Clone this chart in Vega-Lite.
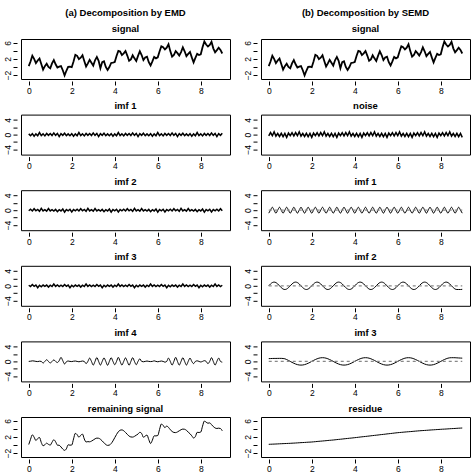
{
  "$schema": "https://vega.github.io/schema/vega-lite/v6.json",
  "padding": {"left": 2, "top": 7, "right": 2, "bottom": 0},
  "config": {
    "font": "Liberation Sans",
    "view": {"stroke": "#000", "strokeWidth": 1},
    "axis": {"title": null, "grid": false, "domain": false, "tickColor": "#000", "labelColor": "#000", "labelFontSize": 8.5, "tickSize": 4, "labelOverlap": false},
    "axisX": {"values": [0, 2, 4, 6, 8], "offset": 2, "labelPadding": 1, "labelFlush": false},
    "axisY": {"offset": 4, "labelAngle": 270, "labelPadding": 1, "labelAlign": "center", "labelBaseline": "bottom"},
    "title": {"fontSize": 9.5, "fontWeight": "bold", "color": "#000", "offset": 4, "frame": "group", "anchor": "middle", "lineHeight": 16},
    "line": {"color": "#000", "strokeWidth": 1}
  },
  "data": {"values": [
    {"x":0,"s":0.22,"e1":0.2,"e2":-0.15,"e3":0.15,"e4":0,"er":0.12,"n":-0.35,"i1":-0.8,"i2":0,"i3":0.75,"r":0.17},
    {"x":0.083,"s":1.36,"e1":-0.3,"e2":0.25,"e3":-0.2,"e4":0.05,"er":1.42,"n":0.55,"i1":0,"i2":0.5,"i3":0.77,"r":0.19},
    {"x":0.167,"s":2.82,"e1":0.25,"e2":-0.2,"e3":0.35,"e4":0.15,"er":2.55,"n":-0.3,"i1":0.8,"i2":0.87,"i3":0.79,"r":0.21},
    {"x":0.25,"s":2.03,"e1":-0.45,"e2":0.4,"e3":-0.15,"e4":0.1,"er":1.95,"n":0.75,"i1":0,"i2":1,"i3":0.8,"r":0.23},
    {"x":0.333,"s":0.97,"e1":0.2,"e2":-0.15,"e3":0.2,"e4":0,"er":1.12,"n":-0.4,"i1":-0.8,"i2":0.87,"i3":0.8,"r":0.25},
    {"x":0.417,"s":1.63,"e1":-0.3,"e2":0.2,"e3":-0.5,"e4":-0.05,"er":1.62,"n":0.3,"i1":0,"i2":0.5,"i3":0.81,"r":0.27},
    {"x":0.5,"s":2.12,"e1":0.55,"e2":-0.3,"e3":0.15,"e4":0.05,"er":1.88,"n":-0.5,"i1":0.8,"i2":0,"i3":0.82,"r":0.3},
    {"x":0.583,"s":0.74,"e1":-0.25,"e2":0.5,"e3":-0.25,"e4":0,"er":0.64,"n":0.35,"i1":0,"i2":-0.5,"i3":0.82,"r":0.32},
    {"x":0.667,"s":-0.65,"e1":0.2,"e2":-0.2,"e3":0.2,"e4":-0.45,"er":-0.19,"n":-0.55,"i1":-0.8,"i2":-0.87,"i3":0.78,"r":0.34},
    {"x":0.75,"s":0.22,"e1":-0.35,"e2":0.15,"e3":-0.15,"e4":0,"er":0.07,"n":0.3,"i1":0,"i2":-1,"i3":0.71,"r":0.36},
    {"x":0.833,"s":0.81,"e1":0.3,"e2":-0.25,"e3":0.2,"e4":0.45,"er":0.45,"n":-0.75,"i1":0.8,"i2":-0.87,"i3":0.5,"r":0.38},
    {"x":0.917,"s":0.01,"e1":-0.2,"e2":0.45,"e3":-0.35,"e4":0,"er":0.16,"n":0.4,"i1":0,"i2":-0.5,"i3":0.26,"r":0.4},
    {"x":1,"s":-0.33,"e1":0.3,"e2":-0.2,"e3":0.15,"e4":-0.45,"er":-0.02,"n":-0.3,"i1":-0.8,"i2":0,"i3":0,"r":0.42},
    {"x":1.083,"s":0.89,"e1":-0.25,"e2":0.15,"e3":-0.2,"e4":0,"er":0.69,"n":0.5,"i1":0,"i2":0.5,"i3":-0.26,"r":0.45},
    {"x":1.167,"s":1.74,"e1":0.45,"e2":-0.25,"e3":0.5,"e4":0.4,"er":1.32,"n":-0.35,"i1":0.8,"i2":0.87,"i3":-0.5,"r":0.47},
    {"x":1.25,"s":0.69,"e1":-0.2,"e2":0.2,"e3":-0.15,"e4":0,"er":0.79,"n":0.55,"i1":0,"i2":1,"i3":-0.71,"r":0.5},
    {"x":1.333,"s":-0.12,"e1":0.3,"e2":-0.4,"e3":0.25,"e4":-0.3,"er":-0.03,"n":-0.3,"i1":-0.8,"i2":0.87,"i3":-0.87,"r":0.53},
    {"x":1.417,"s":0.09,"e1":-0.55,"e2":0.15,"e3":-0.2,"e4":0.2,"er":-0.07,"n":0.75,"i1":0,"i2":0.5,"i3":-0.97,"r":0.56},
    {"x":1.5,"s":0.24,"e1":0.25,"e2":-0.2,"e3":0.15,"e4":1.1,"er":-0.49,"n":-0.4,"i1":0.8,"i2":0,"i3":-1,"r":0.59},
    {"x":1.583,"s":-0.81,"e1":-0.2,"e2":0.3,"e3":-0.2,"e4":0.2,"er":-1.02,"n":0.3,"i1":0,"i2":-0.5,"i3":-0.97,"r":0.61},
    {"x":1.667,"s":-2.1,"e1":0.35,"e2":-0.5,"e3":0.35,"e4":-0.7,"er":-1.34,"n":-0.5,"i1":-0.8,"i2":-0.87,"i3":-0.87,"r":0.64},
    {"x":1.75,"s":-0.94,"e1":-0.3,"e2":0.2,"e3":-0.15,"e4":-0.1,"er":-0.96,"n":0.35,"i1":0,"i2":-1,"i3":-0.71,"r":0.67},
    {"x":1.833,"s":0.03,"e1":0.2,"e2":-0.15,"e3":0.2,"e4":0.1,"er":0.05,"n":-0.55,"i1":0.8,"i2":-0.87,"i3":-0.5,"r":0.7},
    {"x":1.917,"s":0.11,"e1":-0.3,"e2":0.25,"e3":-0.5,"e4":0,"er":-0.04,"n":0.3,"i1":0,"i2":-0.5,"i3":-0.26,"r":0.72},
    {"x":2,"s":-0.05,"e1":0.25,"e2":-0.45,"e3":0.15,"e4":-0.05,"er":-0.01,"n":-0.75,"i1":-0.8,"i2":0,"i3":0,"r":0.75},
    {"x":2.083,"s":1.4,"e1":-0.45,"e2":0.2,"e3":-0.25,"e4":0.05,"er":1.51,"n":0.4,"i1":0,"i2":0.5,"i3":0.26,"r":0.79},
    {"x":2.167,"s":3.05,"e1":0.2,"e2":-0.15,"e3":0.2,"e4":0.1,"er":2.92,"n":-0.3,"i1":0.8,"i2":0.87,"i3":0.5,"r":0.83},
    {"x":2.25,"s":2.79,"e1":-0.3,"e2":0.25,"e3":-0.15,"e4":0,"er":2.59,"n":0.5,"i1":0,"i2":1,"i3":0.71,"r":0.88},
    {"x":2.333,"s":1.96,"e1":0.55,"e2":-0.2,"e3":0.2,"e4":-0.1,"er":1.94,"n":-0.35,"i1":-0.8,"i2":0.87,"i3":0.87,"r":0.92},
    {"x":2.417,"s":2.33,"e1":-0.25,"e2":0.4,"e3":-0.35,"e4":0,"er":2.43,"n":0.55,"i1":0,"i2":0.5,"i3":0.97,"r":0.96},
    {"x":2.5,"s":2.95,"e1":0.2,"e2":-0.15,"e3":0.15,"e4":0.1,"er":2.72,"n":-0.3,"i1":0.8,"i2":0,"i3":1,"r":1},
    {"x":2.583,"s":1.51,"e1":-0.35,"e2":0.2,"e3":-0.2,"e4":0,"er":1.51,"n":0.75,"i1":0,"i2":-0.5,"i3":0.97,"r":1.04},
    {"x":2.667,"s":0.13,"e1":0.3,"e2":-0.3,"e3":0.5,"e4":-0.6,"er":0.76,"n":-0.4,"i1":-0.8,"i2":-0.87,"i3":0.87,"r":1.08},
    {"x":2.75,"s":0.89,"e1":-0.2,"e2":0.5,"e3":-0.15,"e4":0,"er":0.84,"n":0.3,"i1":0,"i2":-1,"i3":0.71,"r":1.13},
    {"x":2.833,"s":1.8,"e1":0.3,"e2":-0.2,"e3":0.25,"e4":0.9,"er":0.8,"n":-0.5,"i1":0.8,"i2":-0.87,"i3":0.5,"r":1.17},
    {"x":2.917,"s":1.07,"e1":-0.25,"e2":0.15,"e3":-0.2,"e4":0,"er":0.97,"n":0.35,"i1":0,"i2":-0.5,"i3":0.26,"r":1.21},
    {"x":3,"s":0.35,"e1":0.45,"e2":-0.25,"e3":0.15,"e4":-1,"er":1.25,"n":-0.55,"i1":-0.8,"i2":0,"i3":0,"r":1.25},
    {"x":3.083,"s":1.69,"e1":-0.2,"e2":0.45,"e3":-0.2,"e4":0,"er":1.54,"n":0.3,"i1":0,"i2":0.5,"i3":-0.26,"r":1.3},
    {"x":3.167,"s":2.52,"e1":0.3,"e2":-0.2,"e3":0.35,"e4":1.05,"er":1.72,"n":-0.75,"i1":0.8,"i2":0.87,"i3":-0.5,"r":1.35},
    {"x":3.25,"s":1.54,"e1":-0.55,"e2":0.15,"e3":-0.15,"e4":0,"er":1.69,"n":0.4,"i1":0,"i2":1,"i3":-0.71,"r":1.4},
    {"x":3.333,"s":-0.31,"e1":0.25,"e2":-0.25,"e3":0.2,"e4":-1,"er":1.44,"n":-0.3,"i1":-0.8,"i2":0.87,"i3":-0.87,"r":1.44},
    {"x":3.417,"s":1.22,"e1":-0.2,"e2":0.2,"e3":-0.5,"e4":0,"er":1.02,"n":0.5,"i1":0,"i2":0.5,"i3":-0.97,"r":1.49},
    {"x":3.5,"s":1.44,"e1":0.35,"e2":-0.4,"e3":0.15,"e4":0.95,"er":0.54,"n":-0.35,"i1":0.8,"i2":0,"i3":-1,"r":1.54},
    {"x":3.583,"s":0.02,"e1":-0.3,"e2":0.15,"e3":-0.25,"e4":0,"er":0.12,"n":0.55,"i1":0,"i2":-0.5,"i3":-0.97,"r":1.59},
    {"x":3.667,"s":-0.75,"e1":0.2,"e2":-0.2,"e3":0.2,"e4":-1.05,"er":-0.1,"n":-0.3,"i1":-0.8,"i2":-0.87,"i3":-0.87,"r":1.64},
    {"x":3.75,"s":-0.02,"e1":-0.3,"e2":0.3,"e3":-0.15,"e4":0,"er":-0.02,"n":0.75,"i1":0,"i2":-1,"i3":-0.71,"r":1.69},
    {"x":3.833,"s":1.01,"e1":0.25,"e2":-0.5,"e3":0.2,"e4":1,"er":0.36,"n":-0.4,"i1":0.8,"i2":-0.87,"i3":-0.5,"r":1.73},
    {"x":3.917,"s":1.07,"e1":-0.45,"e2":0.2,"e3":-0.35,"e4":0,"er":1.02,"n":0.3,"i1":0,"i2":-0.5,"i3":-0.26,"r":1.78},
    {"x":4,"s":1.23,"e1":0.2,"e2":-0.15,"e3":0.15,"e4":-0.9,"er":1.83,"n":-0.5,"i1":-0.8,"i2":0,"i3":0,"r":1.83},
    {"x":4.083,"s":2.74,"e1":-0.3,"e2":0.25,"e3":-0.2,"e4":0,"er":2.64,"n":0.35,"i1":0,"i2":0.5,"i3":0.26,"r":1.88},
    {"x":4.167,"s":4.0,"e1":0.55,"e2":-0.45,"e3":0.5,"e4":1.1,"er":3.3,"n":-0.55,"i1":0.8,"i2":0.87,"i3":0.5,"r":1.93},
    {"x":4.25,"s":3.85,"e1":-0.25,"e2":0.2,"e3":-0.15,"e4":0,"er":3.7,"n":0.3,"i1":0,"i2":1,"i3":0.71,"r":1.99},
    {"x":4.333,"s":2.98,"e1":0.2,"e2":-0.15,"e3":0.25,"e4":-1,"er":3.78,"n":-0.75,"i1":-0.8,"i2":0.87,"i3":0.87,"r":2.04},
    {"x":4.417,"s":3.41,"e1":-0.35,"e2":0.25,"e3":-0.2,"e4":0,"er":3.56,"n":0.4,"i1":0,"i2":0.5,"i3":0.97,"r":2.09},
    {"x":4.5,"s":3.99,"e1":0.3,"e2":-0.2,"e3":0.15,"e4":0.95,"er":3.14,"n":-0.3,"i1":0.8,"i2":0,"i3":1,"r":2.14},
    {"x":4.583,"s":2.86,"e1":-0.2,"e2":0.4,"e3":-0.2,"e4":0,"er":2.66,"n":0.5,"i1":0,"i2":-0.5,"i3":0.97,"r":2.19},
    {"x":4.667,"s":1.54,"e1":0.3,"e2":-0.15,"e3":0.35,"e4":-1.05,"er":2.24,"n":-0.35,"i1":-0.8,"i2":-0.87,"i3":0.87,"r":2.24},
    {"x":4.75,"s":1.91,"e1":-0.25,"e2":0.2,"e3":-0.15,"e4":0,"er":2.01,"n":0.55,"i1":0,"i2":-1,"i3":0.71,"r":2.3},
    {"x":4.833,"s":2.93,"e1":0.45,"e2":-0.3,"e3":0.2,"e4":1,"er":1.98,"n":-0.3,"i1":0.8,"i2":-0.87,"i3":0.5,"r":2.35},
    {"x":4.917,"s":2.16,"e1":-0.2,"e2":0.5,"e3":-0.5,"e4":0,"er":2.16,"n":0.75,"i1":0,"i2":-0.5,"i3":0.26,"r":2.4},
    {"x":5,"s":1.5,"e1":0.3,"e2":-0.2,"e3":0.15,"e4":-0.9,"er":2.45,"n":-0.4,"i1":-0.8,"i2":0,"i3":0,"r":2.45},
    {"x":5.083,"s":2.79,"e1":-0.55,"e2":0.15,"e3":-0.25,"e4":0,"er":2.74,"n":0.3,"i1":0,"i2":0.5,"i3":-0.26,"r":2.5},
    {"x":5.167,"s":3.93,"e1":0.25,"e2":-0.25,"e3":0.2,"e4":0.7,"er":3.17,"n":-0.5,"i1":0.8,"i2":0.87,"i3":-0.5,"r":2.56},
    {"x":5.25,"s":3.0,"e1":-0.2,"e2":0.45,"e3":-0.15,"e4":0,"er":2.9,"n":0.35,"i1":0,"i2":1,"i3":-0.71,"r":2.61},
    {"x":5.333,"s":1.76,"e1":0.35,"e2":-0.2,"e3":0.2,"e4":-0.1,"er":1.94,"n":-0.55,"i1":-0.8,"i2":0.87,"i3":-0.87,"r":2.66},
    {"x":5.417,"s":2.39,"e1":-0.3,"e2":0.15,"e3":-0.35,"e4":0,"er":2.24,"n":0.3,"i1":0,"i2":0.5,"i3":-0.97,"r":2.71},
    {"x":5.5,"s":2.57,"e1":0.2,"e2":-0.25,"e3":0.15,"e4":0.1,"er":2.49,"n":-0.75,"i1":0.8,"i2":0,"i3":-1,"r":2.77},
    {"x":5.583,"s":1.2,"e1":-0.3,"e2":0.2,"e3":-0.2,"e4":0,"er":1.35,"n":0.4,"i1":0,"i2":-0.5,"i3":-0.97,"r":2.82},
    {"x":5.667,"s":0.38,"e1":0.25,"e2":-0.4,"e3":0.5,"e4":-0.05,"er":0.37,"n":-0.3,"i1":-0.8,"i2":-0.87,"i3":-0.87,"r":2.87},
    {"x":5.75,"s":1.41,"e1":-0.45,"e2":0.15,"e3":-0.15,"e4":0,"er":1.21,"n":0.5,"i1":0,"i2":-1,"i3":-0.71,"r":2.92},
    {"x":5.833,"s":2.51,"e1":0.2,"e2":-0.2,"e3":0.25,"e4":0.15,"er":2.29,"n":-0.35,"i1":0.8,"i2":-0.87,"i3":-0.5,"r":2.98},
    {"x":5.917,"s":2.17,"e1":-0.3,"e2":0.3,"e3":-0.2,"e4":0,"er":2.27,"n":0.55,"i1":0,"i2":-0.5,"i3":-0.26,"r":3.03},
    {"x":6,"s":2.43,"e1":0.55,"e2":-0.5,"e3":0.15,"e4":-0.1,"er":2.36,"n":-0.3,"i1":-0.8,"i2":0,"i3":0,"r":3.08},
    {"x":6.083,"s":3.88,"e1":-0.25,"e2":0.2,"e3":-0.2,"e4":0,"er":3.88,"n":0.75,"i1":0,"i2":0.5,"i3":0.26,"r":3.12},
    {"x":6.167,"s":5.18,"e1":0.2,"e2":-0.15,"e3":0.35,"e4":0.1,"er":5.25,"n":-0.4,"i1":0.8,"i2":0.87,"i3":0.5,"r":3.16},
    {"x":6.25,"s":4.96,"e1":-0.35,"e2":0.25,"e3":-0.15,"e4":0,"er":4.91,"n":0.3,"i1":0,"i2":1,"i3":0.71,"r":3.2},
    {"x":6.333,"s":4.38,"e1":0.3,"e2":-0.45,"e3":0.2,"e4":-0.2,"er":4.34,"n":-0.5,"i1":-0.8,"i2":0.87,"i3":0.87,"r":3.24},
    {"x":6.417,"s":4.85,"e1":-0.2,"e2":0.2,"e3":-0.5,"e4":0,"er":4.75,"n":0.35,"i1":0,"i2":0.5,"i3":0.97,"r":3.28},
    {"x":6.5,"s":5.7,"e1":0.3,"e2":-0.15,"e3":0.15,"e4":0.9,"er":4.4,"n":-0.55,"i1":0.8,"i2":0,"i3":1,"r":3.32},
    {"x":6.583,"s":3.97,"e1":-0.25,"e2":0.25,"e3":-0.25,"e4":0,"er":3.82,"n":0.3,"i1":0,"i2":-0.5,"i3":0.97,"r":3.35},
    {"x":6.667,"s":2.59,"e1":0.45,"e2":-0.2,"e3":0.2,"e4":-1,"er":3.39,"n":-0.75,"i1":-0.8,"i2":-0.87,"i3":0.87,"r":3.39},
    {"x":6.75,"s":2.99,"e1":-0.2,"e2":0.4,"e3":-0.15,"e4":0,"er":3.14,"n":0.4,"i1":0,"i2":-1,"i3":0.71,"r":3.43},
    {"x":6.833,"s":3.95,"e1":0.3,"e2":-0.15,"e3":0.2,"e4":1.1,"er":3.1,"n":-0.3,"i1":0.8,"i2":-0.87,"i3":0.5,"r":3.47},
    {"x":6.917,"s":3.47,"e1":-0.55,"e2":0.2,"e3":-0.35,"e4":0,"er":3.27,"n":0.5,"i1":0,"i2":-0.5,"i3":0.26,"r":3.51},
    {"x":7,"s":2.85,"e1":0.25,"e2":-0.3,"e3":0.15,"e4":-1,"er":3.55,"n":-0.35,"i1":-0.8,"i2":0,"i3":0,"r":3.55},
    {"x":7.083,"s":3.72,"e1":-0.2,"e2":0.5,"e3":-0.2,"e4":0,"er":3.82,"n":0.55,"i1":0,"i2":0.5,"i3":-0.26,"r":3.58},
    {"x":7.167,"s":4.93,"e1":0.35,"e2":-0.2,"e3":0.5,"e4":1,"er":3.98,"n":-0.3,"i1":0.8,"i2":0.87,"i3":-0.5,"r":3.61},
    {"x":7.25,"s":3.93,"e1":-0.3,"e2":0.15,"e3":-0.15,"e4":0,"er":3.93,"n":0.75,"i1":0,"i2":1,"i3":-0.71,"r":3.64},
    {"x":7.333,"s":2.72,"e1":0.2,"e2":-0.25,"e3":0.25,"e4":-1,"er":3.67,"n":-0.4,"i1":-0.8,"i2":0.87,"i3":-0.87,"r":3.67},
    {"x":7.417,"s":3.28,"e1":-0.3,"e2":0.45,"e3":-0.2,"e4":0,"er":3.23,"n":0.3,"i1":0,"i2":0.5,"i3":-0.97,"r":3.7},
    {"x":7.5,"s":3.74,"e1":0.25,"e2":-0.2,"e3":0.15,"e4":0.9,"er":2.82,"n":-0.5,"i1":0.8,"i2":0,"i3":-1,"r":3.74},
    {"x":7.583,"s":2.4,"e1":-0.45,"e2":0.15,"e3":-0.2,"e4":0,"er":2.3,"n":0.35,"i1":0,"i2":-0.5,"i3":-0.97,"r":3.77},
    {"x":7.667,"s":1.16,"e1":0.2,"e2":-0.25,"e3":0.35,"e4":-0.6,"er":1.74,"n":-0.55,"i1":-0.8,"i2":-0.87,"i3":-0.87,"r":3.8},
    {"x":7.75,"s":2.27,"e1":-0.3,"e2":0.2,"e3":-0.15,"e4":0,"er":2.12,"n":0.3,"i1":0,"i2":-1,"i3":-0.71,"r":3.83},
    {"x":7.833,"s":3.29,"e1":0.55,"e2":-0.4,"e3":0.2,"e4":0.15,"er":3.17,"n":-0.75,"i1":0.8,"i2":-0.87,"i3":-0.5,"r":3.86},
    {"x":7.917,"s":2.98,"e1":-0.25,"e2":0.15,"e3":-0.5,"e4":0,"er":3.13,"n":0.4,"i1":0,"i2":-0.5,"i3":-0.26,"r":3.89},
    {"x":8,"s":3.17,"e1":0.2,"e2":-0.2,"e3":0.15,"e4":-0.15,"er":3.24,"n":-0.3,"i1":-0.8,"i2":0,"i3":0,"r":3.92},
    {"x":8.083,"s":4.91,"e1":-0.35,"e2":0.3,"e3":-0.25,"e4":0,"er":4.71,"n":0.5,"i1":0,"i2":0.5,"i3":0.26,"r":3.95},
    {"x":8.167,"s":6.4,"e1":0.3,"e2":-0.5,"e3":0.2,"e4":0.2,"er":5.98,"n":-0.35,"i1":0.8,"i2":0.87,"i3":0.5,"r":3.97},
    {"x":8.25,"s":5.61,"e1":-0.2,"e2":0.2,"e3":-0.15,"e4":0,"er":5.71,"n":0.55,"i1":0,"i2":1,"i3":0.71,"r":4},
    {"x":8.333,"s":5.12,"e1":0.3,"e2":-0.15,"e3":0.2,"e4":-0.6,"er":5.45,"n":-0.3,"i1":-0.8,"i2":0.87,"i3":0.87,"r":4.03},
    {"x":8.417,"s":5.53,"e1":-0.25,"e2":0.25,"e3":-0.35,"e4":0,"er":5.53,"n":0.75,"i1":0,"i2":0.5,"i3":0.97,"r":4.06},
    {"x":8.5,"s":6.3,"e1":0.45,"e2":-0.45,"e3":0.15,"e4":1,"er":5.09,"n":-0.4,"i1":0.8,"i2":0,"i3":1,"r":4.09},
    {"x":8.583,"s":4.66,"e1":-0.2,"e2":0.2,"e3":-0.2,"e4":0,"er":4.61,"n":0.3,"i1":0,"i2":-0.5,"i3":1,"r":4.11},
    {"x":8.667,"s":3.66,"e1":0.3,"e2":-0.15,"e3":0.5,"e4":-1,"er":4.26,"n":-0.5,"i1":-0.8,"i2":-0.87,"i3":0.99,"r":4.14},
    {"x":8.75,"s":4.23,"e1":-0.55,"e2":0.25,"e3":-0.15,"e4":0,"er":4.13,"n":0.35,"i1":0,"i2":-1,"i3":0.96,"r":4.17},
    {"x":8.833,"s":4.83,"e1":0.25,"e2":-0.2,"e3":0.25,"e4":0.9,"er":4.21,"n":-0.55,"i1":0.8,"i2":-1,"i3":0.93,"r":4.2},
    {"x":8.917,"s":4.27,"e1":-0.2,"e2":0.4,"e3":-0.2,"e4":0,"er":4.12,"n":0.3,"i1":0,"i2":-1,"i3":0.9,"r":4.22},
    {"x":9,"s":3.38,"e1":0.35,"e2":-0.15,"e3":0.15,"e4":-0.2,"er":3.54,"n":-0.75,"i1":-0.8,"i2":-0.95,"i3":0.88,"r":4.25}
  ]},
  "hconcat": [
    {
      "spacing": 5.6,
      "vconcat": [
        {"title": {"text": ["(a) Decomposition by EMD", "signal"]}, "width": 209, "height": 40, "mark": {"type": "line", "strokeWidth": 1.8},
         "encoding": {"x": {"field": "x", "type": "quantitative", "scale": {"domain": [-0.36, 9.36], "nice": false, "zero": false}},
                      "y": {"field": "s", "type": "quantitative", "scale": {"domain": [-3, 7], "nice": false, "zero": false}, "axis": {"values": [-2, 0, 2, 4, 6], "labelExpr": "abs(datum.value) % 4 == 2 ? datum.label : ''"}}}},
        {"title": "imf 1", "width": 209, "height": 40, "mark": {"type": "line", "strokeWidth": 1.5},
         "encoding": {"x": {"field": "x", "type": "quantitative", "scale": {"domain": [-0.36, 9.36], "nice": false, "zero": false}},
                      "y": {"field": "e1", "type": "quantitative", "scale": {"domain": [-5.4, 5.4], "nice": false, "zero": false}, "axis": {"values": [-4, -2, 0, 2, 4], "labelExpr": "datum.value % 4 == 0 ? datum.label : ''"}}}},
        {"title": "imf 2", "width": 209, "height": 40, "mark": {"type": "line", "strokeWidth": 1.5},
         "encoding": {"x": {"field": "x", "type": "quantitative", "scale": {"domain": [-0.36, 9.36], "nice": false, "zero": false}},
                      "y": {"field": "e2", "type": "quantitative", "scale": {"domain": [-5.4, 5.4], "nice": false, "zero": false}, "axis": {"values": [-4, -2, 0, 2, 4], "labelExpr": "datum.value % 4 == 0 ? datum.label : ''"}}}},
        {"title": "imf 3", "width": 209, "height": 40, "mark": {"type": "line", "strokeWidth": 1.5},
         "encoding": {"x": {"field": "x", "type": "quantitative", "scale": {"domain": [-0.36, 9.36], "nice": false, "zero": false}},
                      "y": {"field": "e3", "type": "quantitative", "scale": {"domain": [-5.4, 5.4], "nice": false, "zero": false}, "axis": {"values": [-4, -2, 0, 2, 4], "labelExpr": "datum.value % 4 == 0 ? datum.label : ''"}}}},
        {"title": "imf 4", "width": 209, "height": 40, "mark": {"type": "line", "interpolate": "monotone"},
         "encoding": {"x": {"field": "x", "type": "quantitative", "scale": {"domain": [-0.36, 9.36], "nice": false, "zero": false}},
                      "y": {"field": "e4", "type": "quantitative", "scale": {"domain": [-5.4, 5.4], "nice": false, "zero": false}, "axis": {"values": [-4, -2, 0, 2, 4], "labelExpr": "datum.value % 4 == 0 ? datum.label : ''"}}}},
        {"title": "remaining signal", "width": 209, "height": 40, "mark": {"type": "line", "interpolate": "monotone"},
         "encoding": {"x": {"field": "x", "type": "quantitative", "scale": {"domain": [-0.36, 9.36], "nice": false, "zero": false}},
                      "y": {"field": "er", "type": "quantitative", "scale": {"domain": [-3, 7], "nice": false, "zero": false}, "axis": {"values": [-2, 0, 2, 4, 6], "labelExpr": "abs(datum.value) % 4 == 2 ? datum.label : ''"}}}}
      ]
    },
    {
      "spacing": 5.6,
      "vconcat": [
        {"title": {"text": ["(b) Decomposition by SEMD", "signal"]}, "width": 209, "height": 40, "mark": {"type": "line", "strokeWidth": 1.8},
         "encoding": {"x": {"field": "x", "type": "quantitative", "scale": {"domain": [-0.36, 9.36], "nice": false, "zero": false}},
                      "y": {"field": "s", "type": "quantitative", "scale": {"domain": [-3, 7], "nice": false, "zero": false}, "axis": {"values": [-2, 0, 2, 4, 6], "labelExpr": "abs(datum.value) % 4 == 2 ? datum.label : ''"}}}},
        {"title": "noise", "width": 209, "height": 40, "mark": {"type": "line", "strokeWidth": 1.5},
         "encoding": {"x": {"field": "x", "type": "quantitative", "scale": {"domain": [-0.36, 9.36], "nice": false, "zero": false}},
                      "y": {"field": "n", "type": "quantitative", "scale": {"domain": [-5.4, 5.4], "nice": false, "zero": false}, "axis": {"values": [-4, -2, 0, 2, 4], "labelExpr": "datum.value % 4 == 0 ? datum.label : ''"}}}},
        {"title": "imf 1", "width": 209, "height": 40,
         "layer": [
           {"mark": {"type": "line", "interpolate": "monotone"},
            "encoding": {"x": {"field": "x", "type": "quantitative", "scale": {"domain": [-0.36, 9.36], "nice": false, "zero": false}},
                         "y": {"field": "i1", "type": "quantitative", "scale": {"domain": [-5.4, 5.4], "nice": false, "zero": false}, "axis": {"values": [-4, -2, 0, 2, 4], "labelExpr": "datum.value % 4 == 0 ? datum.label : ''"}}}},
           {"data": {"values": [{"x": 0, "z": 0}, {"x": 9, "z": 0}]}, "mark": {"type": "line", "color": "#888", "strokeDash": [3, 3], "strokeWidth": 1.2},
            "encoding": {"x": {"field": "x", "type": "quantitative"}, "y": {"field": "z", "type": "quantitative", "axis": {"values": [-4, -2, 0, 2, 4], "labelExpr": "datum.value % 4 == 0 ? datum.label : ''"}}}}
         ]},
        {"title": "imf 2", "width": 209, "height": 40,
         "layer": [
           {"mark": {"type": "line", "interpolate": "monotone"},
            "encoding": {"x": {"field": "x", "type": "quantitative", "scale": {"domain": [-0.36, 9.36], "nice": false, "zero": false}},
                         "y": {"field": "i2", "type": "quantitative", "scale": {"domain": [-5.4, 5.4], "nice": false, "zero": false}, "axis": {"values": [-4, -2, 0, 2, 4], "labelExpr": "datum.value % 4 == 0 ? datum.label : ''"}}}},
           {"data": {"values": [{"x": 0, "z": 0}, {"x": 9, "z": 0}]}, "mark": {"type": "line", "color": "#888", "strokeDash": [3, 3], "strokeWidth": 1.2},
            "encoding": {"x": {"field": "x", "type": "quantitative"}, "y": {"field": "z", "type": "quantitative", "axis": {"values": [-4, -2, 0, 2, 4], "labelExpr": "datum.value % 4 == 0 ? datum.label : ''"}}}}
         ]},
        {"title": "imf 3", "width": 209, "height": 40,
         "layer": [
           {"mark": {"type": "line", "interpolate": "monotone"},
            "encoding": {"x": {"field": "x", "type": "quantitative", "scale": {"domain": [-0.36, 9.36], "nice": false, "zero": false}},
                         "y": {"field": "i3", "type": "quantitative", "scale": {"domain": [-5.4, 5.4], "nice": false, "zero": false}, "axis": {"values": [-4, -2, 0, 2, 4], "labelExpr": "datum.value % 4 == 0 ? datum.label : ''"}}}},
           {"data": {"values": [{"x": 0, "z": 0}, {"x": 9, "z": 0}]}, "mark": {"type": "line", "color": "#888", "strokeDash": [3, 3], "strokeWidth": 1.2},
            "encoding": {"x": {"field": "x", "type": "quantitative"}, "y": {"field": "z", "type": "quantitative", "axis": {"values": [-4, -2, 0, 2, 4], "labelExpr": "datum.value % 4 == 0 ? datum.label : ''"}}}}
         ]},
        {"title": "residue", "width": 209, "height": 40, "mark": {"type": "line", "interpolate": "monotone"},
         "encoding": {"x": {"field": "x", "type": "quantitative", "scale": {"domain": [-0.36, 9.36], "nice": false, "zero": false}},
                      "y": {"field": "r", "type": "quantitative", "scale": {"domain": [-3, 7], "nice": false, "zero": false}, "axis": {"values": [-2, 0, 2, 4, 6], "labelExpr": "abs(datum.value) % 4 == 2 ? datum.label : ''"}}}}
      ]
    }
  ],
  "spacing": 11
}
